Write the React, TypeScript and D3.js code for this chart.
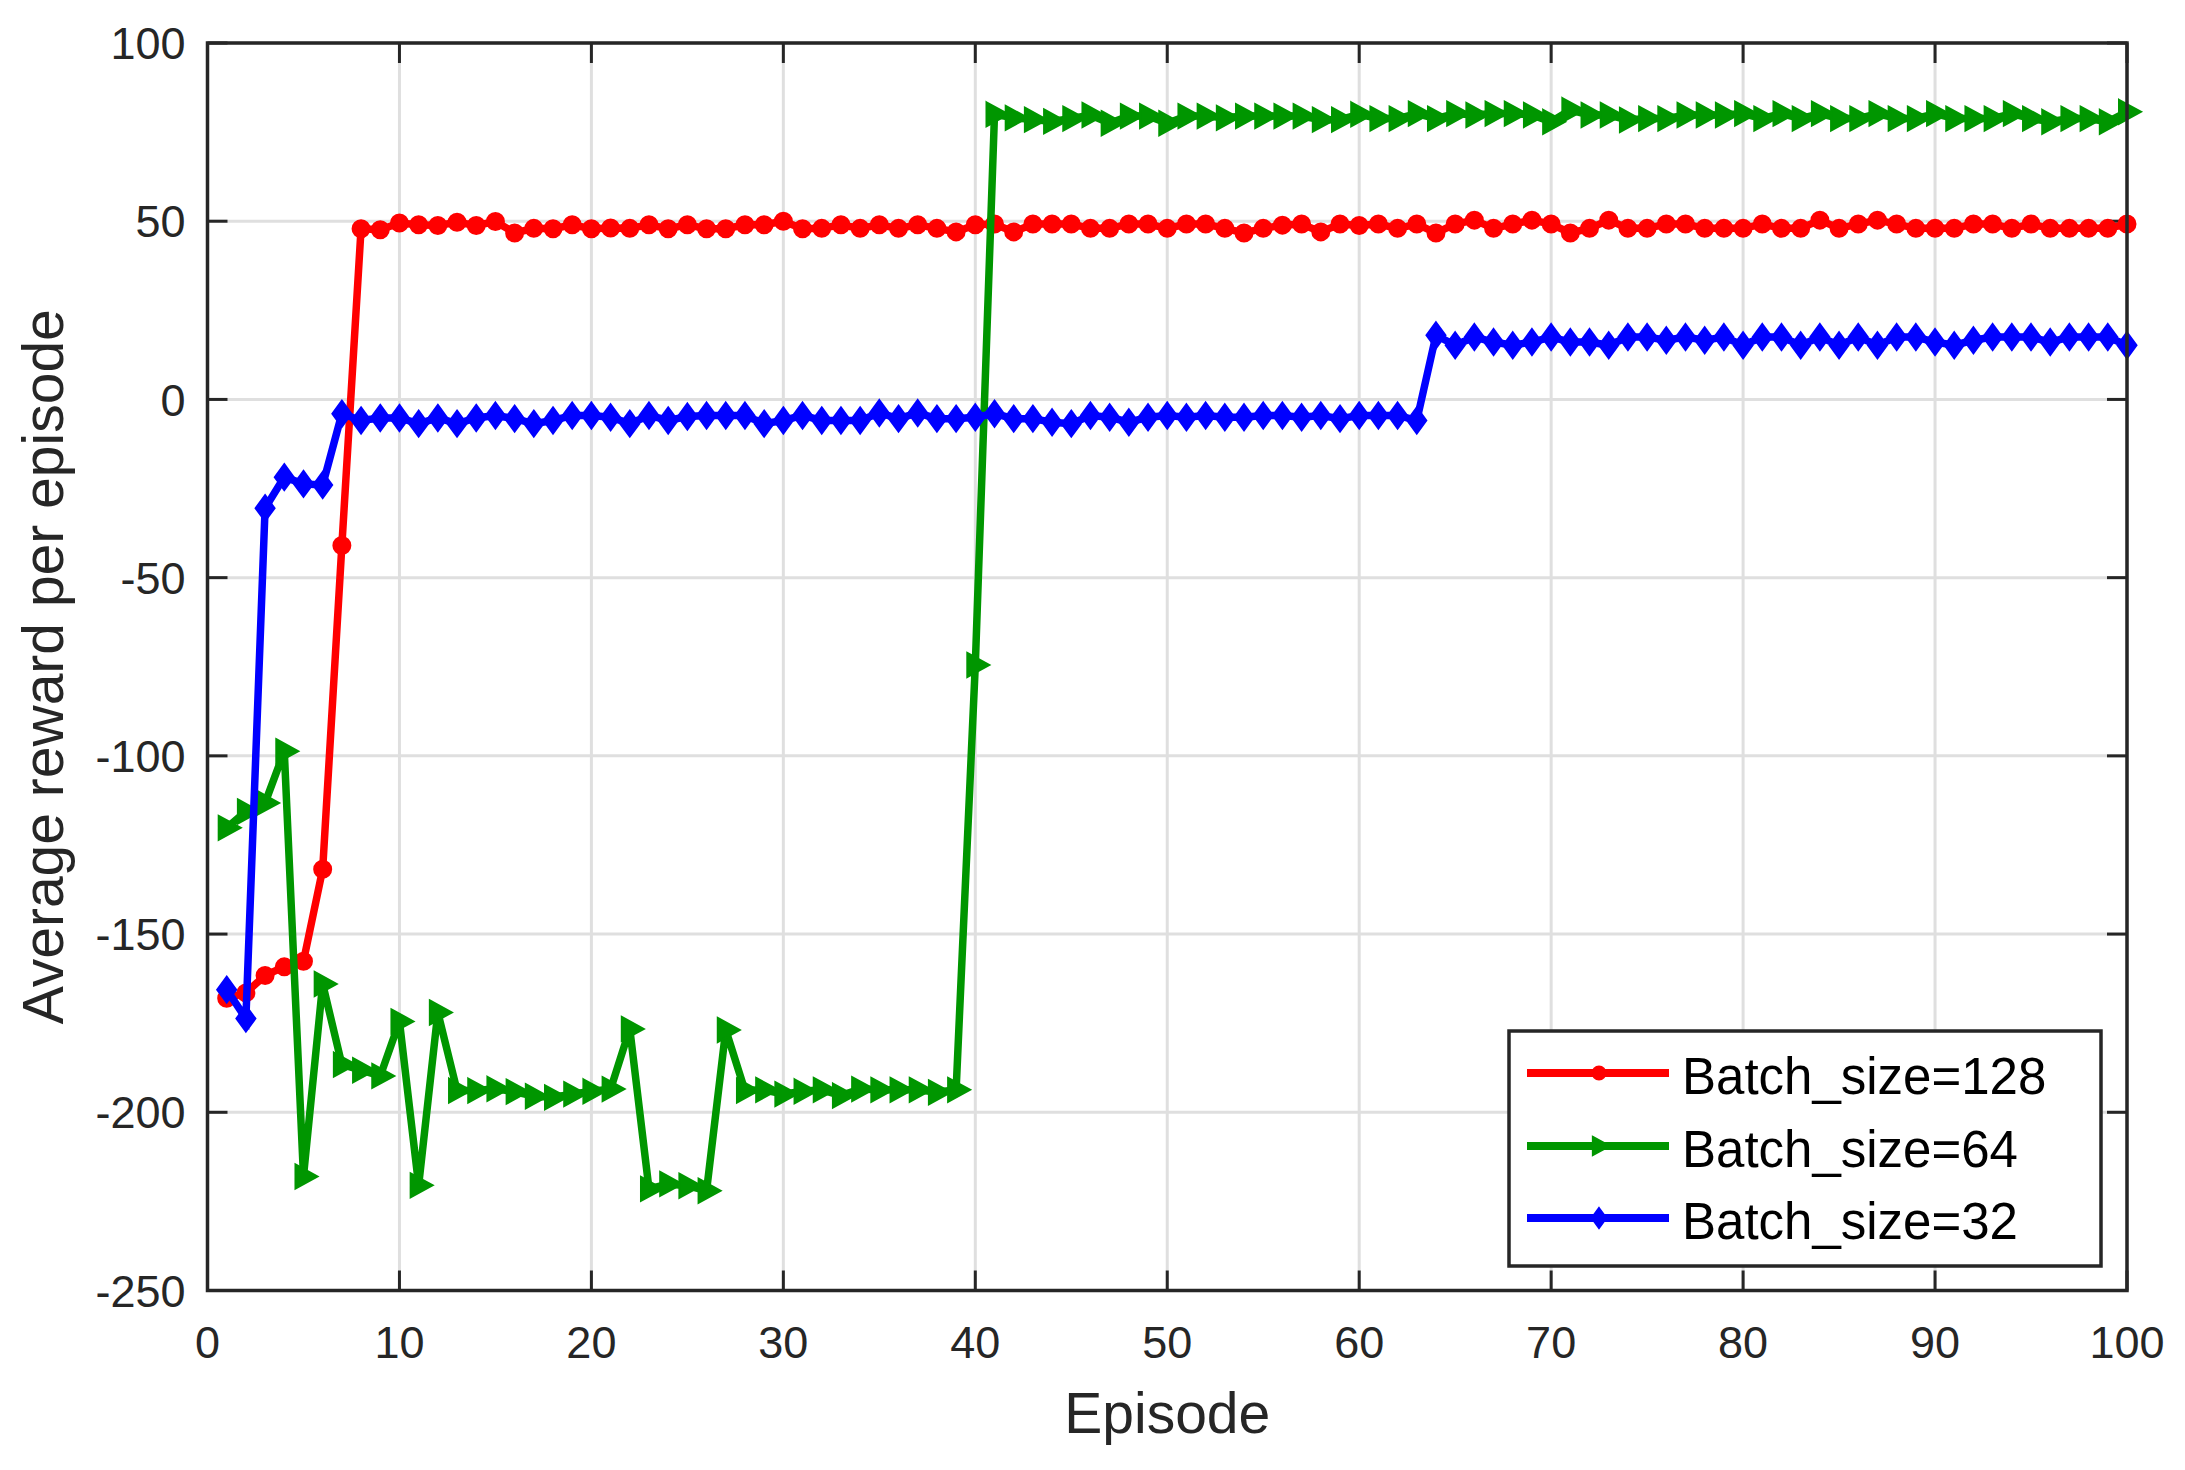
import React from "react";
import * as d3 from "d3";

// Average reward per episode for three batch sizes (episodes 1..100)
const episodes = d3.range(1, 101);

const batch128 = [
  -168, -166.5, -161.6, -159.2, -157.6, -131.8, -41, 47.9, 47.6, 49.5,
  49.0, 48.8, 49.7, 48.8, 49.9, 46.7, 48, 47.9, 49, 47.9,
  48.1, 48, 49, 47.9, 49, 47.9, 47.9, 49, 49, 50,
  47.9, 48, 49, 48, 49, 48, 49, 48, 47, 49,
  49.2, 47, 49.2, 49.2, 49.2, 48, 48, 49.2, 49.2, 48,
  49.2, 49.2, 48, 46.7, 48, 48.9, 49.2, 47, 49.2, 48.8,
  49.2, 48, 49.2, 46.7, 49.2, 50.3, 48, 49.2, 50.3, 49.2,
  46.7, 48, 50.3, 48, 48, 49.2, 49.2, 48, 48, 48,
  49.2, 48, 48, 50.3, 48, 49.2, 50.3, 49.2, 48, 48,
  48, 49.2, 49.2, 48, 49.2, 48, 48, 48, 48, 49.2,
];

const batch64 = [
  -120.2, -115.6, -113.2, -98.7, -218, -164, -186.6, -188.2, -189.8, -174.5,
  -220.5, -172, -193.9, -193.9, -193.4, -194.2, -195.5, -195.8, -194.9, -194.1,
  -193.5, -176.6, -221.5, -220.1, -220.6, -222, -176.9, -193.9, -193.7, -194.9,
  -194.1, -193.7, -195.3, -193.5, -193.7, -193.7, -193.7, -194.4, -193.7, -74.5,
  80, 79, 78.5, 78, 78.8, 79.8, 77.5, 79.5, 79.5, 77.5,
  79.5, 79.5, 79, 79.5, 79.5, 79.5, 79.5, 78.5, 78.5, 80,
  78.8, 78.8, 80.2, 78.8, 80.2, 79.8, 80.2, 80.2, 79.8, 77.9,
  81.2, 79.8, 79.8, 78.4, 78.8, 78.8, 79.8, 79.8, 79.8, 80.2,
  78.8, 80.2, 78.8, 80.2, 78.8, 78.8, 80.2, 78.8, 78.8, 80.2,
  78.8, 78.8, 78.8, 80.2, 78.8, 77.9, 78.8, 78.8, 77.9, 80.7,
];

const batch32 = [
  -165.6, -173.7, -30.5, -21.8, -23.7, -24, -4, -5.9, -5.2, -5.2,
  -6.8, -5.2, -6.8, -5.2, -4.5, -5.4, -6.8, -5.9, -4.5, -4.5,
  -5, -6.8, -4.5, -5.9, -4.8, -4.5, -4.5, -4.5, -6.8, -5.9,
  -4.5, -5.9, -5.9, -5.9, -3.8, -5.4, -3.8, -5.4, -5.4, -5,
  -4, -5.4, -5.4, -6.4, -6.8, -4.5, -5, -6.4, -5, -4.5,
  -5, -4.5, -5, -5, -4.5, -4.5, -5, -4.5, -5.4, -4.5,
  -4.5, -4.5, -5.9, 18, 15.2, 17.5, 16.1, 15.2, 16.1, 17.5,
  16.1, 16.1, 15.2, 17.5, 17.5, 16.6, 17.5, 16.6, 17.5, 15.2,
  17.5, 17.5, 15.2, 17.5, 15.2, 17.5, 15.2, 17.5, 17.5, 16.1,
  15.2, 16.6, 17.5, 17.5, 17.5, 16.1, 17.5, 17.5, 17.5, 15.2,
];

const xTicks = [0, 10, 20, 30, 40, 50, 60, 70, 80, 90, 100];
const yTicks = [-250, -200, -150, -100, -50, 0, 50, 100];

type Marker = "circle" | "triangle" | "diamond";

const series: { name: string; values: number[]; color: string; marker: Marker }[] = [
  { name: "Batch_size=128", values: batch128, color: "#ff0000", marker: "circle" },
  { name: "Batch_size=64", values: batch64, color: "#009600", marker: "triangle" },
  { name: "Batch_size=32", values: batch32, color: "#0000ff", marker: "diamond" },
];

const W = 2185;
const H = 1470;
const plot = { left: 207.5, right: 2127, top: 43, bottom: 1290.5 };
const axisColor = "#262626";
const gridColor = "#dfdfdf";
const font = "'Liberation Sans', Arial, Helvetica, sans-serif";

const markerPath = (m: Marker, scale = 1) => {
  if (m === "circle") {
    const r = 8.5 * scale;
    return `M${-r},0a${r},${r} 0 1,0 ${2 * r},0a${r},${r} 0 1,0 ${-2 * r},0Z`;
  }
  if (m === "diamond") {
    const hw = 9.5 * scale;
    const hh = 13 * scale;
    return `M0,${-hh}L${hw},0L0,${hh}L${-hw},0Z`;
  }
  const hh = 12 * scale;
  return `M${-8 * scale},${-hh}L${14 * scale},0L${-8 * scale},${hh}Z`;
};

export default function App() {
  const x = d3.scaleLinear().domain([0, 100]).range([plot.left, plot.right]);
  const y = d3.scaleLinear().domain([-250, 100]).range([plot.bottom, plot.top]);

  const line = d3
    .line<number>()
    .x((_, i) => x(episodes[i]))
    .y((d) => y(d));

  const tickLen = 20;
  const legend = { x: 1509, y: 1031, w: 592, h: 235 };
  const rowY = [1073, 1146, 1218];
  const lx = legend.x + 18;

  return (
    <div style={{ position: "fixed", left: 0, top: 0 }}>
      <svg width={W} height={H} style={{ display: "block", background: "#fff" }}>
        <rect width={W} height={H} fill="#fff" />

        {/* grid */}
        {xTicks.map((t) => (
          <line key={`gx${t}`} x1={x(t)} x2={x(t)} y1={plot.top} y2={plot.bottom} stroke={gridColor} strokeWidth={3} />
        ))}
        {yTicks.map((t) => (
          <line key={`gy${t}`} x1={plot.left} x2={plot.right} y1={y(t)} y2={y(t)} stroke={gridColor} strokeWidth={3} />
        ))}

        {/* ticks, inward on all sides */}
        {xTicks.map((t) => (
          <g key={`tx${t}`} stroke={axisColor} strokeWidth={3}>
            <line x1={x(t)} x2={x(t)} y1={plot.bottom} y2={plot.bottom - tickLen} />
            <line x1={x(t)} x2={x(t)} y1={plot.top} y2={plot.top + tickLen} />
          </g>
        ))}
        {yTicks.map((t) => (
          <g key={`ty${t}`} stroke={axisColor} strokeWidth={3}>
            <line x1={plot.left} x2={plot.left + tickLen} y1={y(t)} y2={y(t)} />
            <line x1={plot.right} x2={plot.right - tickLen} y1={y(t)} y2={y(t)} />
          </g>
        ))}

        {/* data */}
        {series.map((s) => (
          <g key={s.name}>
            <path d={line(s.values) ?? ""} fill="none" stroke={s.color} strokeWidth={7.5} strokeLinejoin="miter" />
            {s.values.map((v, i) => (
              <path
                key={i}
                d={markerPath(s.marker)}
                transform={`translate(${x(episodes[i])},${y(v)})`}
                fill={s.color}
                stroke={s.color}
                strokeWidth={2}
              />
            ))}
          </g>
        ))}

        {/* axes box */}
        <rect
          x={plot.left}
          y={plot.top}
          width={plot.right - plot.left}
          height={plot.bottom - plot.top}
          fill="none"
          stroke={axisColor}
          strokeWidth={3.5}
        />

        {/* tick labels */}
        {xTicks.map((t) => (
          <text key={`lx${t}`} x={x(t)} y={1358} textAnchor="middle" fontFamily={font} fontSize={45} fill={axisColor}>
            {t}
          </text>
        ))}
        {yTicks.map((t) => (
          <text
            key={`ly${t}`}
            x={plot.left - 22}
            y={y(t)}
            dy="0.36em"
            textAnchor="end"
            fontFamily={font}
            fontSize={45}
            fill={axisColor}
          >
            {t}
          </text>
        ))}

        {/* axis labels */}
        <text x={(plot.left + plot.right) / 2} y={1433} textAnchor="middle" fontFamily={font} fontSize={57} fill={axisColor}>
          Episode
        </text>
        <text
          transform={`translate(63,${(plot.top + plot.bottom) / 2}) rotate(-90)`}
          textAnchor="middle"
          fontFamily={font}
          fontSize={57}
          fill={axisColor}
        >
          Average reward per episode
        </text>

        {/* legend */}
        <rect x={legend.x} y={legend.y} width={legend.w} height={legend.h} fill="#fff" stroke={axisColor} strokeWidth={3.5} />
        {series.map((s, i) => (
          <g key={`leg${s.name}`}>
            <line x1={lx} x2={lx + 142} y1={rowY[i]} y2={rowY[i]} stroke={s.color} strokeWidth={8} />
            <path
              d={markerPath(s.marker, 0.8)}
              transform={`translate(${lx + 72},${rowY[i]})`}
              fill={s.color}
              stroke={s.color}
              strokeWidth={1.5}
            />
            <text x={lx + 155} y={rowY[i] + 21} fontFamily={font} fontSize={51} fill="#000">
              {s.name}
            </text>
          </g>
        ))}
      </svg>
    </div>
  );
}
